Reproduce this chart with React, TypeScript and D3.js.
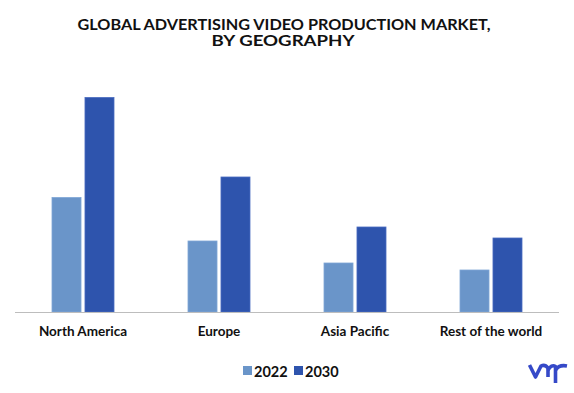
import React from "react";
import * as d3 from "d3";

const categories = ["North America", "Europe", "Asia Pacific", "Rest of the world"];
const series = ["2022", "2030"];
const values2022 = [11.45, 7.1, 4.9, 4.2];
const values2030 = [21.45, 13.5, 8.5, 7.4];
const colors = ["#6a95c9", "#2e54ad"];

const W = 574;
const H = 393;
const FONT = "Lato, 'Open Sans', sans-serif";

export default function App() {
  const x0 = d3.scaleBand<string>().domain(categories).range([15, 559]).paddingInner(0).paddingOuter(0);
  const x1 = d3.scaleBand<string>().domain(series).range([37, 99]).paddingInner(0.12);
  const y = d3.scaleLinear().domain([0, 23]).range([312, 82]);
  const data = [values2022, values2030];

  return (
    <svg width={W} height={H} style={{ position: "absolute", left: 0, top: 0, background: "#fff" }}>
      <rect x={0} y={0} width={W} height={H} fill="#fff" />
      <g fontFamily={FONT} fontWeight={700} fill="#111" textAnchor="middle">
        <text x={284} y={29.5} fontSize={15} textLength={413} lengthAdjust="spacingAndGlyphs">
          GLOBAL ADVERTISING VIDEO PRODUCTION MARKET,
        </text>
        <text x={283} y={45.5} fontSize={15} textLength={143} lengthAdjust="spacingAndGlyphs">
          BY GEOGRAPHY
        </text>
      </g>
      <g>
        {categories.map((c, i) =>
          series.map((s, j) => {
            const v = data[j][i];
            const bx = (x0(c) as number) + (x1(s) as number);
            return (
              <rect
                key={c + s}
                x={bx}
                y={y(v)}
                width={x1.bandwidth()}
                height={y(0) - y(v)}
                fill={colors[j]}
                stroke={j === 0 ? "#7fa6d6" : "#4a6cc0"}
                strokeWidth={0.8}
              />
            );
          })
        )}
      </g>
      <line x1={15} x2={559} y1={y(0) + 0.5} y2={y(0) + 0.5} stroke="#bdbdbd" strokeWidth={1} />
      <g fontFamily={FONT} fontWeight={700} fontSize={13.5} fill="#111" textAnchor="middle">
        {categories.map((c) => (
          <text key={c} x={(x0(c) as number) + x0.bandwidth() / 2} y={336}>
            {c}
          </text>
        ))}
      </g>
      <g fontFamily={FONT} fontWeight={700} fontSize={14.5} fill="#111">
        {series.map((s, j) => {
          const lx = 243 + j * 51;
          return (
            <g key={s}>
              <rect x={lx} y={366} width={9} height={9} fill={colors[j]} />
              <text x={lx + 11} y={376.5}>{s}</text>
            </g>
          );
        })}
      </g>
      <g fill="none" stroke="#3549c8" strokeWidth={3.6} strokeLinejoin="round" strokeLinecap="butt">
        <path d="M529.5,365 L535.5,377 L541,366 Q545,364 548,368 L548,377" />
        <path d="M548,370 Q551.5,364 555.5,366.5 L555.5,383" />
        <path d="M555.5,370 Q559,364.5 567,366" />
      </g>
    </svg>
  );
}
